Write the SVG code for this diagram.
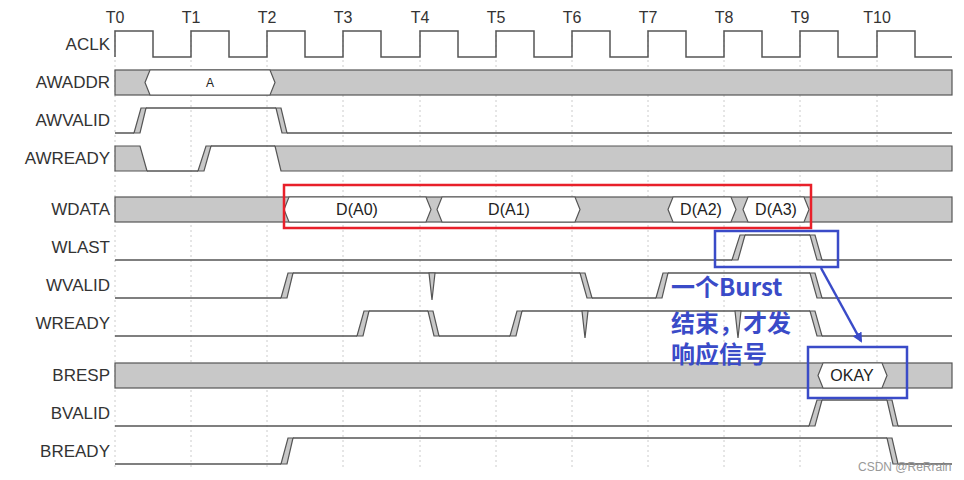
<svg xmlns="http://www.w3.org/2000/svg" width="964" height="480" viewBox="0 0 964 480">
<style>
.lbl{font-family:"Liberation Sans",Arial,sans-serif;font-size:17px;fill:#333;text-anchor:end}
.tl{font-family:"Liberation Sans",Arial,sans-serif;font-size:16px;fill:#333;text-anchor:middle}
.dl{font-family:"Liberation Sans",Arial,sans-serif;font-size:16px;fill:#222;text-anchor:middle}
.grid{stroke:#ccc;stroke-width:1;stroke-dasharray:2,3}
.w{fill:none;stroke:#555;stroke-width:1.5}
.g{fill:#c8c8c8;stroke:#555;stroke-width:1.2}
.h{fill:#fff;stroke:#555;stroke-width:1.2}
.cn{font-family:"Noto Sans CJK SC","Liberation Sans",sans-serif;font-size:24px;font-weight:bold;fill:#3a4bc8}
</style>
<defs><marker id="ah" markerWidth="10" markerHeight="10" refX="8" refY="5" orient="auto" markerUnits="userSpaceOnUse"><path d="M0,0 L10,5 L0,10 z" fill="#3a4bc8"/></marker></defs>
<rect width="964" height="480" fill="#fff"/>
<g id="grid">
<path class="grid" d="M115,30V470M191,30V470M267,30V470M343,30V470M420,30V470M496,30V470M572,30V470M648,30V470M724,30V470M800,30V470M877,30V470"/>
</g>
<g id="ticks">
<text class="tl" x="115" y="23">T0</text><text class="tl" x="191" y="23">T1</text><text class="tl" x="267" y="23">T2</text><text class="tl" x="343" y="23">T3</text><text class="tl" x="420" y="23">T4</text><text class="tl" x="496" y="23">T5</text><text class="tl" x="572" y="23">T6</text><text class="tl" x="648" y="23">T7</text><text class="tl" x="724" y="23">T8</text><text class="tl" x="800" y="23">T9</text><text class="tl" x="877" y="23">T10</text>
</g>
<g id="labels">
<text class="lbl" x="110" y="50">ACLK</text>
<text class="lbl" x="110" y="88">AWADDR</text>
<text class="lbl" x="110" y="126">AWVALID</text>
<text class="lbl" x="110" y="164">AWREADY</text>
<text class="lbl" x="110" y="215">WDATA</text>
<text class="lbl" x="110" y="253">WLAST</text>
<text class="lbl" x="110" y="291">WVALID</text>
<text class="lbl" x="110" y="329">WREADY</text>
<text class="lbl" x="110" y="381">BRESP</text>
<text class="lbl" x="110" y="419">BVALID</text>
<text class="lbl" x="110" y="457">BREADY</text>
</g>
<g id="ACLK"><path class="w" d="M115,57V31H153V57H191V31H229V57H267V31H305V57H343V31H381V57H420V31H458V57H496V31H534V57H572V31H610V57H648V31H686V57H724V31H762V57H800V31H838V57H877V31H915V57H952"/></g>
<g id="AWADDR">
<rect class="g" x="115" y="70" width="837" height="25"/>
<polygon class="h" points="145,82.5 150,70 270,70 275,82.5 270,95 150,95"/>
<text class="dl" x="210" y="87" style="font-size:12px">A</text>
</g>
<g id="AWVALID">
<path class="w" d="M115,133H134M146,108H276M287,133H952"/>
<polygon class="g" points="134,133 140,133 146,108 141,108"/>
<polygon class="g" points="276,108 281,108 287,133 282,133"/>
</g>
<g id="AWREADY">
<polygon class="g" points="115,146 140,146 147,171 115,171"/>
<path class="w" d="M147,171H198M211,146H275"/>
<polygon class="g" points="198,171 204,171 211,146 206,146"/>
<polygon class="g" points="275,146 952,146 952,171 281,171"/>
</g>
<g id="WDATA">
<rect class="g" x="115" y="197" width="837" height="25"/>
<polygon class="h" points="284,209.5 289,197 426,197 431,209.5 426,222 289,222"/>
<polygon class="h" points="437,209.5 442,197 575,197 580,209.5 575,222 442,222"/>
<polygon class="h" points="668,209.5 673,197 731,197 736,209.5 731,222 673,222"/>
<polygon class="h" points="743,209.5 748,197 804,197 809,209.5 804,222 748,222"/>
<text class="dl" x="357" y="215">D(A0)</text>
<text class="dl" x="509" y="215">D(A1)</text>
<text class="dl" x="701" y="215">D(A2)</text>
<text class="dl" x="776" y="215">D(A3)</text>
</g>
<g id="WLAST">
<path class="w" d="M115,260H732M745,235H810M822,260H952"/>
<polygon class="g" points="732,260 738,260 745,235 740,235"/>
<polygon class="g" points="810,235 815,235 822,260 817,260"/>
</g>
<g id="WVALID">
<path class="w" d="M115,298H281M293,273H580M592,298H656M668,273H810M822,298H952"/>
<polygon class="g" points="281,298 287,298 293,273 288,273"/>
<polygon class="g" points="429,273 435,273 432,300"/>
<polygon class="g" points="580,273 585,273 592,298 587,298"/>
<polygon class="g" points="656,298 662,298 668,273 663,273"/>
<polygon class="g" points="810,273 815,273 822,298 817,298"/>
</g>
<g id="WREADY">
<path class="w" d="M115,336H357M369,311H428M439,336H510M522,311H810M822,336H952"/>
<polygon class="g" points="357,336 363,336 369,311 364,311"/>
<polygon class="g" points="428,311 433,311 439,336 434,336"/>
<polygon class="g" points="510,336 516,336 522,311 517,311"/>
<polygon class="g" points="582,311 588,311 585,338"/>
<polygon class="g" points="735,311 741,311 738,338"/>
<polygon class="g" points="810,311 815,311 822,336 817,336"/>
</g>
<g id="BRESP">
<rect class="g" x="115" y="363" width="837" height="25"/>
<polygon class="h" points="818,375.5 823,363 882,363 887,375.5 882,388 823,388"/>
<text class="dl" x="852" y="381">OKAY</text>
</g>
<g id="BVALID">
<path class="w" d="M115,426H809M822,400H887M898,426H952"/>
<polygon class="g" points="809,426 815,426 822,400 817,400"/>
<polygon class="g" points="887,400 892,400 898,426 893,426"/>
</g>
<g id="BREADY">
<path class="w" d="M115,464H281M293,438H887M898,464H952"/>
<polygon class="g" points="281,464 287,464 293,438 288,438"/>
<polygon class="g" points="887,438 892,438 898,464 893,464"/>
</g>
<g id="annot">
<rect x="284" y="185" width="527" height="43" fill="none" stroke="#e8202a" stroke-width="2.5"/>
<rect x="715" y="231" width="123" height="36" fill="none" stroke="#3a4bc8" stroke-width="2.5"/>
<rect x="808" y="347" width="99" height="51" fill="none" stroke="#3a4bc8" stroke-width="2.5"/>
</g>
<g id="connectors">
<line x1="821" y1="268" x2="861" y2="341" stroke="#3a4bc8" stroke-width="2.5" marker-end="url(#ah)"/>
</g>
<g id="note">
<text class="cn" x="671" y="296">一个Burst</text>
<text class="cn" x="671" y="332">结束，才发</text>
<text class="cn" x="671" y="363">响应信号</text>
</g>
<text x="858" y="471" style="font-family:'Liberation Sans',sans-serif;font-size:12px;fill:#999">CSDN @ReRrain</text>
</svg>
